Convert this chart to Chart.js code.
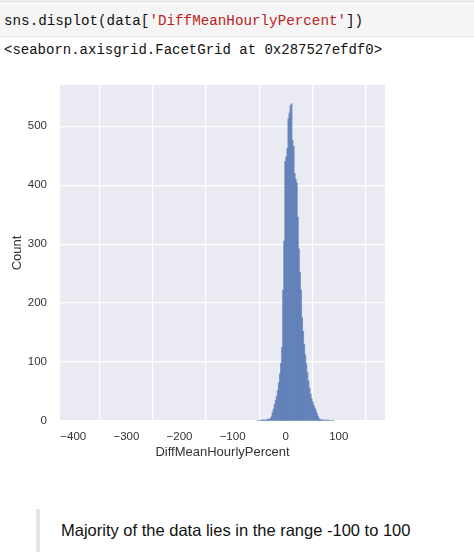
<!DOCTYPE html>
<html>
<head>
<meta charset="utf-8">
<script src="https://cdn.jsdelivr.net/npm/chart.js@4.4.1/dist/chart.umd.min.js"></script>
<style>
  html, body { margin: 0; padding: 0; background: #fff; }
  body { width: 474px; height: 556px; position: relative; overflow: hidden; }
  .topband { position: absolute; left: 0; top: 0; width: 474px; height: 3px; background: #ececec; }
  .cell { position: absolute; left: 0; top: 4px; width: 474px; height: 32px; background: #f5f5f5; border-bottom: 1px solid #e2e2e2; }
  .mono { position: absolute; left: 4px; font-family: "Liberation Mono", "DejaVu Sans Mono", monospace; white-space: pre; color: #111; }
  .code { top: 11px; font-size: 14.25px; line-height: 20px; }
  .code .str { color: #ba2121; }
  .out { top: 40px; font-size: 14px; line-height: 20px; }
  #wrap { position: absolute; left: 0; top: 65px; width: 400px; height: 405px; }
  .quote-bar { position: absolute; left: 36px; top: 509px; width: 4px; height: 43px; background: #e6e6e6; }
  .quote { position: absolute; left: 61px; top: 519px; font-family: "Liberation Sans", Arial, sans-serif; font-size: 16.5px; line-height: 22px; color: #111; white-space: nowrap; }
</style>
</head>
<body>
<div class="topband"></div>
<div class="cell"></div>
<div class="mono code">sns.displot(data[<span class="str">'DiffMeanHourlyPercent'</span>])</div>
<div class="mono out">&lt;seaborn.axisgrid.FacetGrid at 0x287527efdf0&gt;</div>
<div id="wrap"><canvas id="hist" width="400" height="405"></canvas></div>
<div class="quote-bar"></div>
<div class="quote">Majority of the data lies in the range -100 to 100</div>

<script>
// Histogram bins (centre of each 2-unit bin) and counts
const binCenters = [
    -53, -51, -49, -47, -45, -43, -41, -39, -37, -35, -33, -31, -29, -27, -25, -23, -21, -19,
    -17, -15, -13, -11, -9, -7, -5, -3, -1, 1, 3, 5, 7, 9, 11, 13, 15, 17,
    19, 21, 23, 25, 27, 29, 31, 33, 35, 37, 39, 41, 43, 45, 47, 49, 51, 53,
    55, 57, 59, 61, 63, 65, 67, 69, 71, 73, 75, 77, 79, 81, 83, 85, 87, 89
];
const binCounts = [
    1, 0, 1, 1, 2, 1, 2, 1, 2, 2, 3, 3, 4, 7, 14, 20, 28, 35,
    42, 52, 65, 80, 98, 125, 222, 305, 440, 448, 462, 513, 522, 535, 538, 476, 466, 420,
    410, 404, 346, 292, 252, 222, 175, 152, 130, 112, 97, 82, 68, 56, 46, 38, 32, 27,
    22, 18, 13, 8, 4, 2, 3, 1, 2, 1, 2, 1, 2, 1, 1, 0, 1, 1
];

// Axis ticks
const xTicks = [-400, -300, -200, -100, 0, 100];
const yTicks = [0, 100, 200, 300, 400, 500];
const xRange = [-425, 187];
const yRange = [0, 570];

const fmt = (v) => (v < 0 ? '\u2212' + Math.abs(v) : String(v));

// seaborn darkgrid background behind the plot
const plotBackground = {
    id: 'plotBackground',
    beforeDraw(chart) {
        const { ctx, chartArea } = chart;
        ctx.save();
        ctx.fillStyle = '#eaeaf2';
        ctx.fillRect(chartArea.left, chartArea.top, chartArea.right - chartArea.left, chartArea.bottom - chartArea.top);
        ctx.restore();
    }
};

Chart.defaults.font.family = '"Liberation Sans", Arial, sans-serif';
Chart.defaults.color = '#333';

const ctx = document.getElementById('hist');
new Chart(ctx, {
    type: 'bar',
    data: {
        datasets: [{
            label: 'Count',
            data: binCenters.map((c, i) => ({ x: c, y: binCounts[i] })),
            backgroundColor: 'rgba(76, 114, 176, 0.75)',
            borderWidth: 0,
            barPercentage: 1,
            categoryPercentage: 1
        }]
    },
    options: {
        responsive: false,
        animation: false,
        devicePixelRatio: 1,
        layout: { padding: { top: 5, right: 15, left: 0, bottom: 0 } },
        plugins: {
            legend: { display: false },
            tooltip: { enabled: false }
        },
        scales: {
            x: {
                type: 'linear',
                min: xRange[0],
                max: xRange[1],
                offset: false,
                afterBuildTicks: (scale) => { scale.ticks = xTicks.map(v => ({ value: v })); },
                afterFit: (scale) => { scale.height = 49; },
                ticks: { callback: fmt, padding: 9, font: { size: 11.5 }, maxRotation: 0 },
                grid: { color: '#ffffff', lineWidth: 1.2, drawTicks: false },
                border: { display: false },
                title: { display: true, text: 'DiffMeanHourlyPercent', font: { size: 13 }, padding: { top: 0, bottom: 10 } }
            },
            y: {
                min: yRange[0],
                max: yRange[1],
                afterBuildTicks: (scale) => { scale.ticks = yTicks.map(v => ({ value: v })); },
                afterFit: (scale) => { scale.width = 60; },
                ticks: { callback: fmt, padding: 13, font: { size: 11.5 } },
                grid: { color: '#ffffff', lineWidth: 1.2, drawTicks: false },
                border: { display: false },
                title: { display: true, text: 'Count', font: { size: 13 }, padding: { top: 10, bottom: 0 } }
            }
        }
    },
    plugins: [plotBackground]
});
</script>
</body>
</html>
